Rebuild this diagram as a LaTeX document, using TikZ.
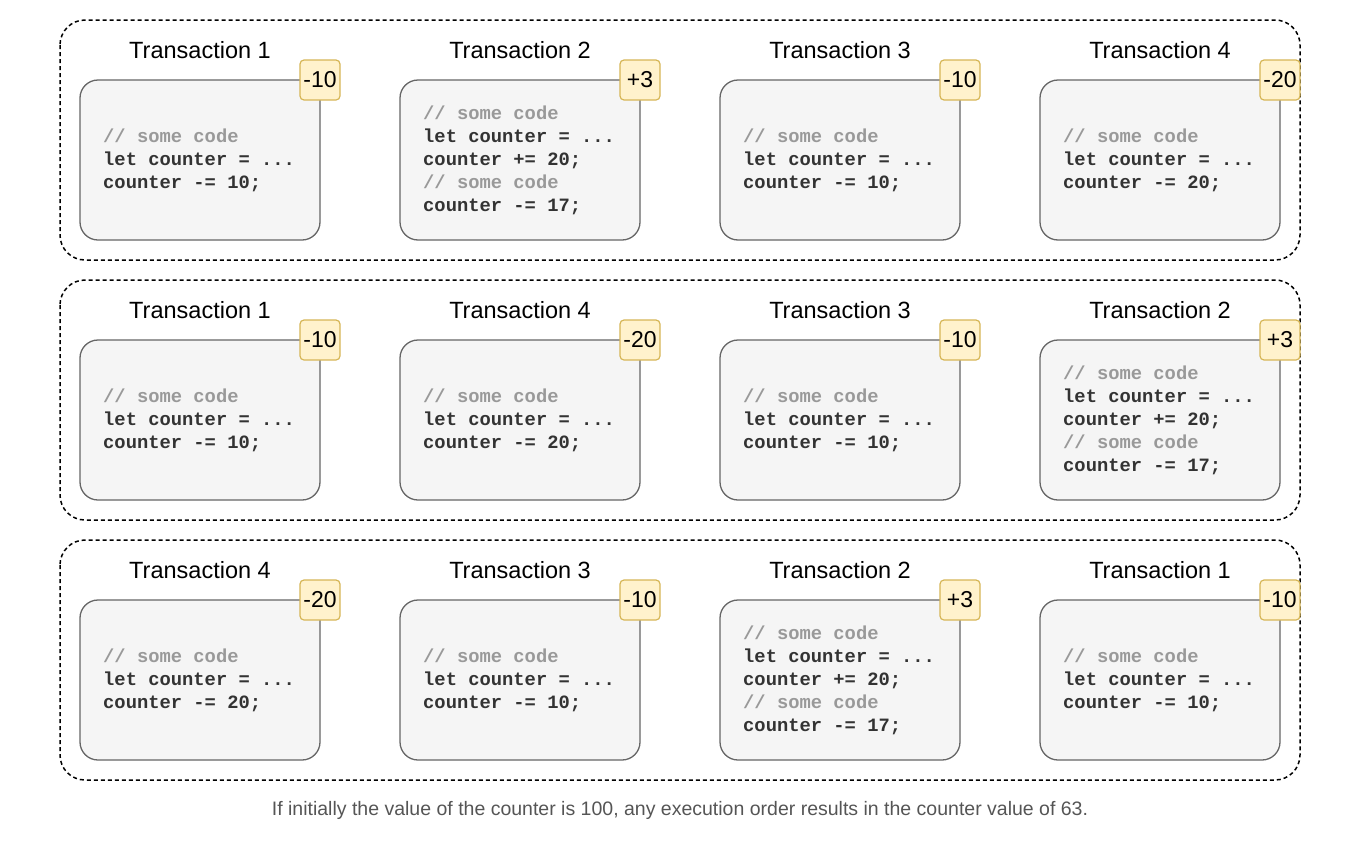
\documentclass[tikz,border=0pt]{standalone}
\usepackage{fontspec}
\setmainfont{Liberation Sans}
\newfontfamily\codefont{Liberation Mono}
\definecolor{boxfill}{HTML}{F5F5F5}
\definecolor{boxdraw}{HTML}{666666}
\definecolor{badgefill}{HTML}{FFF2CC}
\definecolor{badgedraw}{HTML}{D6B656}
\definecolor{cmt}{HTML}{999999}
\definecolor{codec}{HTML}{333333}
\definecolor{capc}{HTML}{555555}
\newcommand{\cm}[1]{\textcolor{cmt}{#1}}
\begin{document}
\begin{tikzpicture}[x=1pt,y=-1pt,
  group/.style={draw=black,dash pattern=on 4pt off 3pt,line width=1.5pt,rounded corners=25pt},
  txbox/.style={draw=boxdraw,fill=boxfill,line width=1.3pt,rounded corners=18pt},
  badge/.style={draw=badgedraw,fill=badgefill,line width=1.2pt,rounded corners=4pt,minimum width=40pt,minimum height=40pt,inner sep=0pt,font=\fontsize{23}{23}\selectfont},
  title/.style={font=\fontsize{23.5}{23.5}\selectfont},
  code/.style={anchor=west,align=left,inner sep=0pt,text=codec,font=\codefont\bfseries\fontsize{18.8}{23}\selectfont}]
\useasboundingbox (0,0) rectangle (1358,849);
\newcommand{\three}[2]{\cm{// some code}\\let counter = ...\\counter -= #2;}
\newcommand{\five}{\cm{// some code}\\let counter = ...\\counter += 20;\\\cm{// some code}\\counter -= 17;}
\foreach \y in {20,280,540}{
  \draw[group] (60,\y) rectangle (1300,\y+240);
}
\newcommand{\tx}[6]{%
  \draw[txbox] (#1,#2+80) rectangle (#1+240,#2+240);
  \node[title] (#6t) at (#1+120,#2+50) {Transaction #3};
  \node[badge] (#6b) at (#1+240,#2+80) {#4};
  \node[code] (#6c) at (#1+23,#2+160) {#5};}
\tx{80}{0}{1}{-10}{\three{}{10}}{a1}
\tx{400}{0}{2}{+3}{\five}{a2}
\tx{720}{0}{3}{-10}{\three{}{10}}{a3}
\tx{1040}{0}{4}{-20}{\three{}{20}}{a4}
\tx{80}{260}{1}{-10}{\three{}{10}}{b1}
\tx{400}{260}{4}{-20}{\three{}{20}}{b2}
\tx{720}{260}{3}{-10}{\three{}{10}}{b3}
\tx{1040}{260}{2}{+3}{\five}{b4}
\tx{80}{520}{4}{-20}{\three{}{20}}{c1}
\tx{400}{520}{3}{-10}{\three{}{10}}{c2}
\tx{720}{520}{2}{+3}{\five}{c3}
\tx{1040}{520}{1}{-10}{\three{}{10}}{c4}
\node[text=capc,font=\fontsize{19.5}{19.5}\selectfont] (cap) at (680,810) {If initially the value of the counter is 100, any execution order results in the counter value of 63.};
\end{tikzpicture}
\end{document}
